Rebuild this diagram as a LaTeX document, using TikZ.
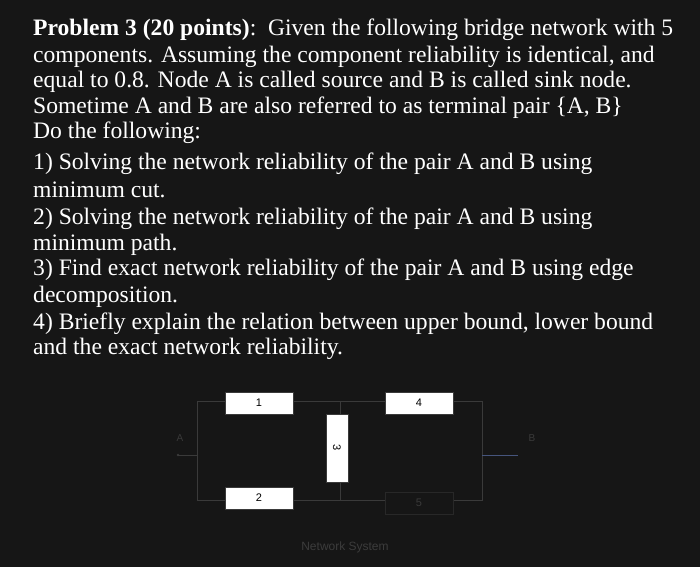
\documentclass[tikz,border=0pt]{standalone}
\usepackage{fontspec}
\setmainfont{Liberation Serif}
\newfontfamily\sansf{Liberation Sans}
\definecolor{bg}{HTML}{161616}
\definecolor{ln}{HTML}{3A3A3A}
\begin{document}
\begin{tikzpicture}[x=1pt,y=-1pt,
  txt/.style={anchor=west,text=white,font=\fontsize{23.6}{26}\selectfont,inner sep=0},
  comp/.style={draw=ln,fill=white,inner sep=0,font=\sansf\fontsize{11}{12}\selectfont},
  wire/.style={draw=ln,line width=0.8pt}]
\fill[bg] (0,0) rectangle (700,567);
\useasboundingbox (0,0) rectangle (700,567);
\node[txt] (l1) at (33,30) {\textbf{Problem 3 (20 points)}:\ \ Given the following bridge network with 5};
\node[txt] (l2) at (33,57) {components. Assuming the component reliability is identical, and};
\node[txt] (l3) at (33,82) {equal to 0.8. Node A is called source and B is called sink node.};
\node[txt] (l4) at (33,108) {Sometime A and B are also referred to as terminal pair \{A, B\}};
\node[txt] (l5) at (33,133) {Do the following:};
\node[txt] (l6) at (33,164) {1) Solving the network reliability of the pair A and B using};
\node[txt] (l7) at (33,190) {minimum cut.};
\node[txt] (l8) at (33,219) {2) Solving the network reliability of the pair A and B using};
\node[txt] (l9) at (33,245) {minimum path.};
\node[txt] (l10) at (33,270) {3) Find exact network reliability of the pair A and B using edge};
\node[txt] (l11) at (33,297) {decomposition.};
\node[txt] (l12) at (33,324) {4) Briefly explain the relation between upper bound, lower bound};
\node[txt] (l13) at (33,349) {and the exact network reliability.};
% wires
\coordinate (tl) at (197,401); \coordinate (bl) at (197,500);
\coordinate (tr) at (482,401); \coordinate (br) at (482,500);
\coordinate (tm) at (340,401); \coordinate (bm) at (340,500);
\coordinate (lm) at (197,455); \coordinate (rm) at (482,455);
\draw[wire] (tl) -- (tr) -- (br) -- (bl) -- cycle;
\draw[wire] (tm) -- (bm);
\node[comp,minimum width=68,minimum height=22] (c1) at (259,403) {1};
\node[comp,minimum width=68,minimum height=22] (c4) at (419,403) {4};
\node[comp,minimum width=68,minimum height=22] (c2) at (259,498) {2};
\node[draw={rgb,255:red,40;green,40;blue,40},fill=bg,text=ln,inner sep=0,minimum width=68,minimum height=22,font=\sansf\fontsize{11}{12}\selectfont] (c5) at (419,503) {5};
\node[comp,minimum width=22,minimum height=68] (c3) at (337,448) {\rotatebox{-90}{3}};
\fill[ln] (178,455) circle (1.3) coordinate (dotA);
\draw[wire] (dotA) -- (lm);
\node[text=ln,font=\sansf\fontsize{10}{10}\selectfont] (A) at (180,438) {A};
\node[text=ln,font=\sansf\fontsize{10}{10}\selectfont] (B) at (532,438) {B};
\coordinate (bend) at (518,455);
\draw[draw={rgb,255:red,70;green,85;blue,125},line width=0.9pt] (rm) -- (bend);
\node[text={rgb,255:red,60;green,60;blue,60},font=\sansf\fontsize{12}{12}\selectfont] (ns) at (345,547) {Network System};
\end{tikzpicture}
\end{document}
